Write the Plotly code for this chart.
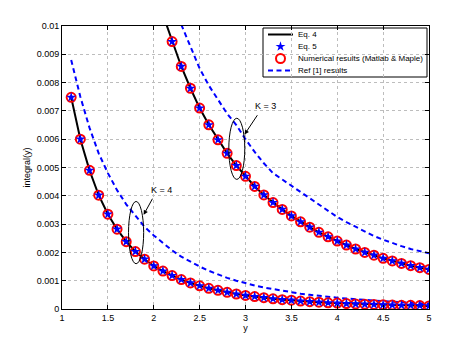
import plotly.graph_objects as go

# ---------------- data ----------------
y_k4 = [1.1, 1.2, 1.3, 1.4, 1.5, 1.6, 1.7, 1.8, 1.9, 2.0,
        2.1, 2.2, 2.3, 2.4, 2.5, 2.6, 2.7, 2.8, 2.9, 3.0,
        3.1, 3.2, 3.3, 3.4, 3.5, 3.6, 3.7, 3.8, 3.9, 4.0,
        4.1, 4.2, 4.3, 4.4, 4.5, 4.6, 4.7, 4.8, 4.9, 5.0]
eq_k4 = [0.00748, 0.00600, 0.00490, 0.00402, 0.00335, 0.00282, 0.00238, 0.00203, 0.00176, 0.00152,
         0.00134, 0.00118, 0.00104, 0.00092, 0.00082, 0.00073, 0.00066, 0.00059, 0.00053, 0.00048,
         0.00044, 0.00040, 0.00036, 0.00033, 0.00031, 0.00028, 0.00026, 0.00024, 0.00022, 0.00021,
         0.00019, 0.00018, 0.00017, 0.00016, 0.00015, 0.00014, 0.00013, 0.00013, 0.00012, 0.00011]
ref_k4 = [0.0088, 0.0075, 0.0064, 0.0055, 0.0048, 0.0042, 0.0037, 0.0033, 0.0029, 0.0026,
          0.00232, 0.00207, 0.00185, 0.00166, 0.00150, 0.00135, 0.00122, 0.00110, 0.00100, 0.00091,
          0.00083, 0.00076, 0.00070, 0.00064, 0.00059, 0.00054, 0.00050, 0.00046, 0.00043, 0.00040,
          0.00037, 0.00034, 0.00032, 0.00030, 0.00028, 0.00026, 0.00024, 0.00022, 0.00020, 0.00018]

# K = 3 (upper family)
y_k3_line = [2.1, 2.2, 2.3, 2.4, 2.5, 2.6, 2.7, 2.8, 2.9, 3.0,
             3.1, 3.2, 3.3, 3.4, 3.5, 3.6, 3.7, 3.8, 3.9, 4.0,
             4.1, 4.2, 4.3, 4.4, 4.5, 4.6, 4.7, 4.8, 4.9, 5.0]
eq_k3_line = [0.0104, 0.00945, 0.00857, 0.00780, 0.00710, 0.00651, 0.00598, 0.00550, 0.00507, 0.00469,
              0.00433, 0.00403, 0.00376, 0.00352, 0.00329, 0.00308, 0.00289, 0.00271, 0.00255, 0.00240,
              0.00226, 0.00212, 0.00200, 0.00190, 0.00179, 0.00170, 0.00161, 0.00153, 0.00146, 0.00140]
y_k3_pts = y_k3_line[1:]
eq_k3_pts = eq_k3_line[1:]

y_k3_ref = [2.3, 2.4, 2.5, 2.6, 2.7, 2.8, 2.9, 3.0, 3.1, 3.2,
            3.3, 3.4, 3.5, 3.6, 3.7, 3.8, 3.9, 4.0, 4.1, 4.2,
            4.3, 4.4, 4.5, 4.6, 4.7, 4.8, 4.9, 5.0]
ref_k3 = [0.01005, 0.0093, 0.0085, 0.0079, 0.0074, 0.0069, 0.0065, 0.0060, 0.00555, 0.00515,
          0.00480, 0.00458, 0.00436, 0.00413, 0.00393, 0.00370, 0.00348, 0.00325, 0.00307, 0.00290,
          0.00272, 0.00258, 0.00245, 0.00233, 0.00222, 0.00212, 0.00204, 0.00197]

x_tick_vals = [1, 1.5, 2, 2.5, 3, 3.5, 4, 4.5, 5]
x_tick_text = ["1", "1.5", "2", "2.5", "3", "3.5", "4", "4.5", "5"]
y_tick_vals = [0, 0.001, 0.002, 0.003, 0.004, 0.005, 0.006, 0.007, 0.008, 0.009, 0.01]
y_tick_text = ["0", "0.001", "0.002", "0.003", "0.004", "0.005", "0.006", "0.007", "0.008", "0.009", "0.01"]

legend_names = ["Eq. 4", "Eq. 5", "Numerical results (Matlab & Maple)", "Ref [1] results"]

# ---------------- figure ----------------
FONT = "Liberation Sans, Arial, Helvetica, sans-serif"
W, H = 474, 348
ML, MR, MT, MB = 62, 45, 26, 39
XR = (1, 5)
YR = (0, 0.01)

def px_to_paper(px, py):
    return (px - ML) / (W - ML - MR), (H - MB - py) / (H - MT - MB)

def px_to_data(px, py):
    fx, fy = px_to_paper(px, py)
    return XR[0] + fx * (XR[1] - XR[0]), YR[0] + fy * (YR[1] - YR[0])

RED = "#ff0000"
BLUE = "#0000ff"
line_style = dict(color="black", width=2)
ref_style = dict(color=BLUE, width=2, dash="5px,3.5px")
circle_marker = dict(symbol="circle-open", size=9, color=RED, line=dict(width=2, color=RED))
star_marker = dict(symbol="star", size=7.5, color=BLUE, line=dict(width=0))

line_x = y_k4 + [None] + y_k3_line
line_y = eq_k4 + [None] + eq_k3_line
pts_x = y_k4 + y_k3_pts
pts_y = eq_k4 + eq_k3_pts
ref_x = y_k4 + [None] + y_k3_ref
ref_y = ref_k4 + [None] + ref_k3

fig = go.Figure()
fig.add_trace(go.Scatter(x=ref_x, y=ref_y, mode="lines", name=legend_names[3],
                         line=ref_style, showlegend=False, connectgaps=False))
fig.add_trace(go.Scatter(x=line_x, y=line_y, mode="lines", name=legend_names[0],
                         line=line_style, showlegend=False, connectgaps=False))
fig.add_trace(go.Scatter(x=pts_x, y=pts_y, mode="markers", name=legend_names[2],
                         marker=circle_marker, showlegend=False))
fig.add_trace(go.Scatter(x=pts_x, y=pts_y, mode="markers", name=legend_names[1],
                         marker=star_marker, showlegend=False))

# ---------- compact MATLAB-style legend box ----------
box_l, box_r, box_t, box_b = 263, 427, 28, 77
row_y = [34.5, 46.5, 58.5, 70.5]
smp_l, smp_r, smp_c, txt_x = 268, 293, 280.5, 296

bx0, by0 = px_to_paper(box_l, box_b)
bx1, by1 = px_to_paper(box_r, box_t)
fig.add_shape(type="rect", xref="paper", yref="paper", x0=bx0, x1=bx1, y0=by0, y1=by1,
              line=dict(color="black", width=1), fillcolor="white", layer="between")
# line samples (Eq. 4 and Ref [1])
for row, sty in ((0, line_style), (3, ref_style)):
    sx0, sy = px_to_paper(smp_l, row_y[row])
    sx1, _ = px_to_paper(smp_r, row_y[row])
    fig.add_shape(type="line", xref="paper", yref="paper", x0=sx0, x1=sx1, y0=sy, y1=sy,
                  line=dict(color=sty["color"], width=sty["width"], dash=sty.get("dash", "solid")),
                  layer="between")
# marker samples (Eq. 5 star, numerical circle)
for row, mk, nm in ((1, star_marker, legend_names[1]), (2, circle_marker, legend_names[2])):
    gx, gy = px_to_data(smp_c, row_y[row])
    fig.add_trace(go.Scatter(x=[gx], y=[gy], mode="markers", marker=mk, name=nm,
                             showlegend=False, hoverinfo="skip", cliponaxis=False))
for row, nm in enumerate(legend_names):
    tx, ty = px_to_paper(txt_x, row_y[row])
    fig.add_annotation(x=tx, y=ty, xref="paper", yref="paper", text=nm, showarrow=False,
                       xanchor="left", yanchor="middle",
                       font=dict(family=FONT, size=8, color="black"))

# ---------- ellipses and arrows marking K values ----------
fig.add_shape(type="circle", xref="x", yref="y", x0=1.725, x1=1.89, y0=0.0016, y1=0.0038,
              line=dict(color="black", width=1))
fig.add_shape(type="circle", xref="x", yref="y", x0=2.818, x1=2.992, y0=0.00458, y1=0.00674,
              line=dict(color="black", width=1))
fig.add_annotation(x=1.89, y=0.00333, ax=1.995, ay=0.00395, xref="x", yref="y",
                   axref="x", ayref="y", showarrow=True, arrowhead=2, arrowsize=0.9,
                   arrowwidth=1, arrowcolor="black", text="")
fig.add_annotation(x=2.08, y=0.0042, xref="x", yref="y", text="K = 4", showarrow=False,
                   font=dict(family=FONT, size=9, color="black"), xanchor="center", yanchor="middle")
fig.add_annotation(x=2.99, y=0.00617, ax=3.14, ay=0.0069, xref="x", yref="y",
                   axref="x", ayref="y", showarrow=True, arrowhead=2, arrowsize=0.9,
                   arrowwidth=1, arrowcolor="black", text="")
fig.add_annotation(x=3.22, y=0.00717, xref="x", yref="y", text="K = 3", showarrow=False,
                   font=dict(family=FONT, size=9, color="black"), xanchor="center", yanchor="middle")

axis_common = dict(showline=True, linecolor="black", linewidth=1, mirror="ticks",
                   ticks="inside", ticklen=4, tickcolor="black",
                   showgrid=True, gridcolor="#bdbdbd", griddash="dot", gridwidth=1,
                   zeroline=False, tickfont=dict(family=FONT, size=9, color="black"))

fig.update_xaxes(range=list(XR), tickvals=x_tick_vals, ticktext=x_tick_text,
                 title=dict(text="y", font=dict(family=FONT, size=9, color="black"), standoff=2),
                 **axis_common)
fig.update_yaxes(range=list(YR), tickvals=y_tick_vals, ticktext=y_tick_text,
                 title=dict(text="integral(y)", font=dict(family=FONT, size=9, color="black"), standoff=4),
                 **axis_common)

fig.update_layout(
    width=W, height=H,
    margin=dict(l=ML, r=MR, t=MT, b=MB),
    paper_bgcolor="white", plot_bgcolor="white",
    font=dict(family=FONT, size=9, color="black"),
    showlegend=False,
)

fig.write_html("out.html")
